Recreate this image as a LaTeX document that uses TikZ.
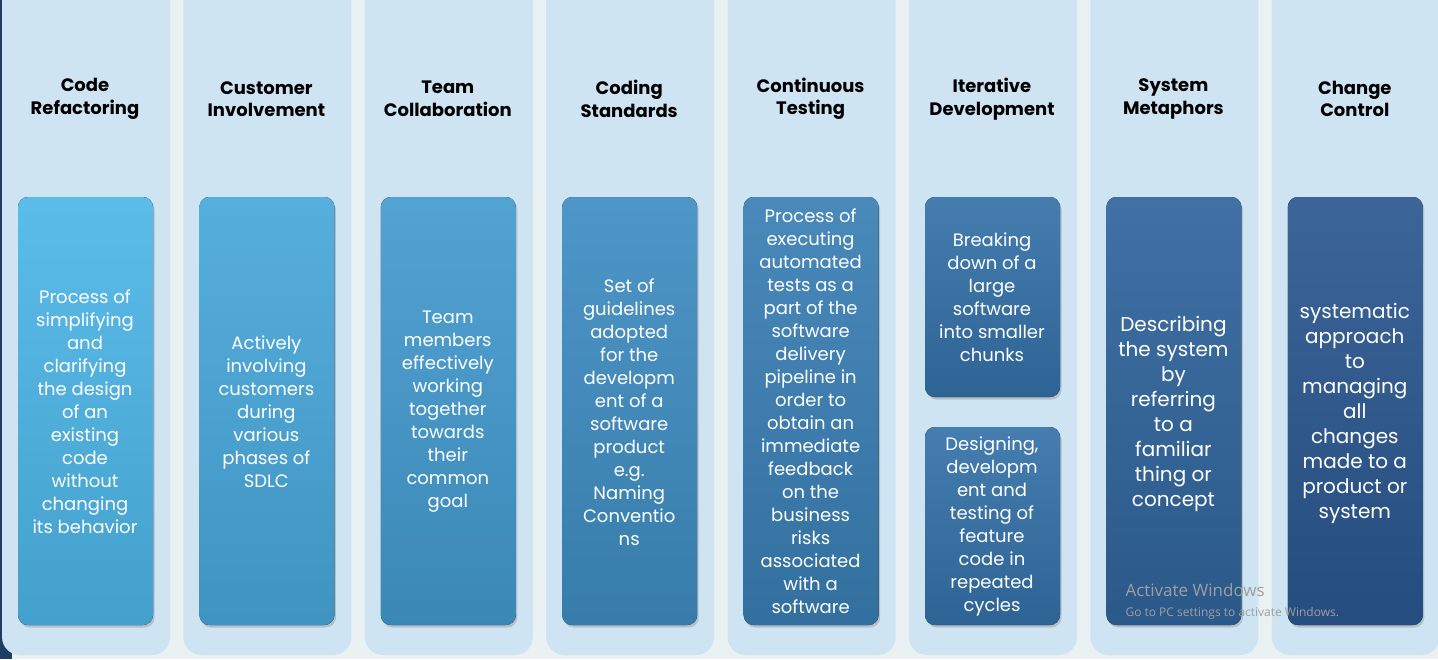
\documentclass[tikz,border=0pt]{standalone}
\usepackage{fontspec}
\setmainfont{Poppins}
\newfontfamily\wmfont{Open Sans}
\definecolor{outerc}{HTML}{CFE4F3}
\definecolor{bgc}{HTML}{E9F1F3}
\definecolor{ca}{HTML}{4DB6E8}
\definecolor{cb}{HTML}{2B5790}
\usetikzlibrary{shadows}
\tikzset{
 outerbox/.style={fill=outerc, rounded corners=18pt, draw=none},
 innerbox/.style={rounded corners=10pt, draw=none, drop shadow={shadow xshift=1.5pt,shadow yshift=-2.5pt,opacity=0.35}},
 ttl/.style={font=\fontsize{18}{22.5}\selectfont\bfseries, align=center, text=black},
 body/.style={font=\fontsize{18}{23}\selectfont, align=center, text=white},
}
\begin{document}
\begin{tikzpicture}[x=1pt,y=-1pt]
\useasboundingbox (0,0) rectangle (1438,659);
\fill[bgc] (0,0) rectangle (1438,659);
\fill[cb!70!black] (0,0) rectangle (12,659);
\foreach \i/\t in {0/{Code\\Refactoring},1/{Customer\\Involvement},2/{Team\\Collaboration},3/{Coding\\Standards},4/{Continuous\\Testing},5/{Iterative\\Development},6/{System\\Metaphors},7/{Change\\Control}}{
  \pgfmathsetmacro{\cx}{85+181.4*\i}
  \fill[outerbox] (\cx-83,-20) rectangle (\cx+85,655);
  \node[ttl] (t\i) at (\cx,99) {\t};
}
\foreach \i/\ya/\yb in {0/197/625,1/197/625,2/197/625,3/197/625,4/197/625,5/197/397,6/197/625,7/197/625}{
  \pgfmathsetmacro{\cx}{85+181.4*\i}
  \pgfmathtruncatemacro{\mx}{100-100*\i/7}
  \colorlet{cc}{ca!\mx!cb}
  \fill[innerbox, top color=cc!92!white, bottom color=cc!88!black] (\cx-67,\ya) rectangle (\cx+68,\yb);
  \coordinate (c\i) at (\cx,{(\ya+\yb)/2});
}
\node[body] (b0) at ([yshift=-1]c0) {Process of\\simplifying\\and\\clarifying\\the design\\of an\\existing\\code\\without\\changing\\its behavior};
\node[body] (b1) at ([yshift=-1]c1) {Actively\\involving\\customers\\during\\various\\phases of\\SDLC};
\node[body] (b2) at ([yshift=-1]c2) {Team\\members\\effectively\\working\\together\\towards\\their\\common\\goal};
\node[body] (b3) at ([yshift=-1]c3) {Set of\\guidelines\\adopted\\for the\\developm\\ent of a\\software\\product\\e.g.\\Naming\\Conventio\\ns};
\node[body] (b4) at ([yshift=0]c4) {Process of\\executing\\automated\\tests as a\\part of the\\software\\delivery\\pipeline in\\order to\\obtain an\\immediate\\feedback\\on the\\business\\risks\\associated\\with a\\software};
\node[body] (b5) at ([yshift=0]c5) {Breaking\\down of a\\large\\software\\into smaller\\chunks};
\begin{scope}
\pgfmathsetmacro{\cx}{85+181.4*5}
\colorlet{cc}{ca!28!cb}
\fill[innerbox, top color=cc!92!white, bottom color=cc!88!black] (\cx-67,427) rectangle (\cx+68,625);
\node[body] (b5b) at (\cx,526) {Designing,\\developm\\ent and\\testing of\\feature\\code in\\repeated\\cycles};
\end{scope}
\node[body,font=\fontsize{20}{25}\selectfont] (b6) at ([yshift=-3]c6) {Describing\\the system\\by\\referring\\to a\\familiar\\thing or\\concept};
\node[body,font=\fontsize{20}{25}\selectfont] (b7) at ([yshift=-2]c7) {systematic\\approach\\to\\managing\\all\\changes\\made to a\\product or\\system};
\node[anchor=west, text=gray!75, font=\wmfont\fontsize{17}{19}\selectfont] (wm1) at (1122,590) {Activate Windows};
\node[anchor=west, text=gray!75, font=\wmfont\fontsize{12}{14}\selectfont] (wm2) at (1122,613) {Go to PC settings to activate Windows.};
\end{tikzpicture}
\end{document}
